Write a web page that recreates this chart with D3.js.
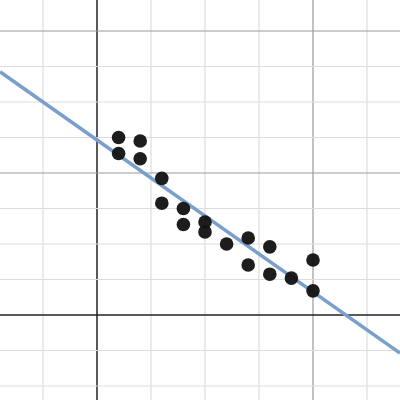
<!DOCTYPE html>
<html>
<head>
<meta charset="utf-8">
<script src="https://cdn.jsdelivr.net/npm/d3@7"></script>
<style>body{margin:0;background:#fff}</style>
</head>
<body>
<div id="chart"></div>
<script>
// scatter points
const xs = [0.4, 0.8, 0.4, 0.8, 1.2, 1.2, 1.6, 1.6, 2.0, 2.0, 2.4, 2.8, 2.8, 3.2, 3.2, 3.6, 4.0, 4.0];
const ys = [5.0, 4.9, 4.55, 4.4, 3.85, 3.15, 3.0, 2.55, 2.62, 2.34, 2.0, 2.17, 1.41, 1.92, 1.15, 1.04, 1.55, 0.68];
// regression line
const slope = -1.07, intercept = 4.93;

const width = 400, height = 400;
const x = d3.scaleLinear().domain([-97 / 54, (400 - 97) / 54]).range([0, width]);
const y = d3.scaleLinear().domain([-85 / 35.5, 315 / 35.5]).range([height, 0]);

const svg = d3.select("#chart").append("svg")
    .attr("width", width).attr("height", height);

// grid
d3.range(-1, 6).forEach(v => {
    svg.append("line")
        .attr("x1", x(v)).attr("x2", x(v)).attr("y1", 0).attr("y2", height)
        .attr("stroke", v === 0 ? "#222" : (v % 4 === 0 ? "#999" : "#ddd"))
        .attr("stroke-width", v === 0 ? 1.5 : 1.2);
});
d3.range(-2, 9).forEach(v => {
    svg.append("line")
        .attr("x1", 0).attr("x2", width).attr("y1", y(v)).attr("y2", y(v))
        .attr("stroke", v === 0 ? "#222" : (v % 4 === 0 ? "#999" : "#ddd"))
        .attr("stroke-width", v === 0 ? 1.5 : 1.2);
});

// fitted line
const xd = x.domain();
svg.append("line")
    .attr("x1", x(xd[0])).attr("y1", y(intercept + slope * xd[0]))
    .attr("x2", x(xd[1])).attr("y2", y(intercept + slope * xd[1]))
    .attr("stroke", "#7a9fcd").attr("stroke-width", 3.5);

// points
svg.selectAll("circle")
    .data(xs.map((v, i) => [v, ys[i]]))
    .join("circle")
    .attr("cx", d => x(d[0]))
    .attr("cy", d => y(d[1]))
    .attr("r", 6.8)
    .attr("fill", "#111")
    .attr("fill-opacity", 0.95);
</script>
</body>
</html>
